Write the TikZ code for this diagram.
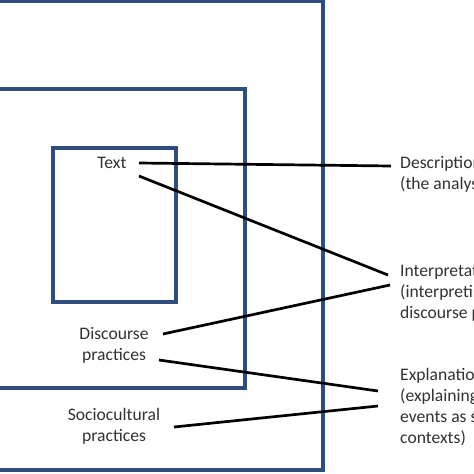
\documentclass[tikz,border=0pt]{standalone}
\usepackage{fontspec}
\setmainfont{Carlito}
\definecolor{boxblue}{RGB}{46,77,128}
\definecolor{txtgray}{RGB}{50,50,50}
\begin{document}
\begin{tikzpicture}[x=1pt,y=-1pt,
  frame/.style={draw=boxblue,line width=3.6pt},
  link/.style={draw=black,line width=2.7pt},
  lbl/.style={text=txtgray,font=\fontsize{17.6}{21}\selectfont,inner sep=0pt,align=center},
  rlbl/.style={text=txtgray,font=\fontsize{17.6}{21}\selectfont,inner sep=0pt,align=left,anchor=west}]
\useasboundingbox (0,0) rectangle (474,474);
\clip (0,0) rectangle (474,474);
\fill[white] (0,0) rectangle (474,474);
% boxes
\draw[frame] (-20,1) rectangle (323,470);
\draw[frame] (-20,89) rectangle (245,388);
\draw[frame] (53,148) rectangle (176,302);
% left labels
\node[lbl] (text) at (112,163) {Text};
\node[lbl] (disc) at (114,345.5) {Discourse\\practices};
\node[lbl] (socio) at (114,426) {Sociocultural\\practices};
% right labels
\node[rlbl] (descr) at (400,174) {Description\\(the analysis of text)};
\node[rlbl] (interp) at (400,293) {Interpretation\\(interpreting texts as\\discourse practices)};
\node[rlbl] (expl) at (400,407.5) {Explanation\\(explaining discourse\\events as social\\contexts)};
% connector end points
\coordinate (t1) at (139,163);
\coordinate (t2) at (139,176);
\coordinate (d1) at (163,334);
\coordinate (d2) at (159,360);
\coordinate (s1) at (174,427);
\coordinate (de) at (391,166);
\coordinate (i1) at (388,275);
\coordinate (i2) at (390,285);
\coordinate (e1) at (378,391);
\coordinate (e2) at (378,406);
\draw[link] (t1) -- (de);
\draw[link] (t2) -- (i1);
\draw[link] (d1) -- (i2);
\draw[link] (d2) -- (e1);
\draw[link] (s1) -- (e2);
\end{tikzpicture}
\end{document}
